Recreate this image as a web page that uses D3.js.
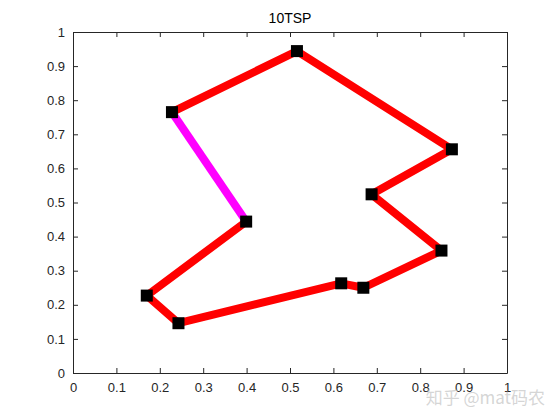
<!DOCTYPE html>
<html lang="en">

<head>
  <meta charset="UTF-8">
  <title>10TSP</title>
  <script src="https://d3js.org/d3.v7.min.js"></script>
  <style>
    body { margin: 0; background: #fff; }
    text { font-family: "Liberation Sans", Arial, sans-serif; }
  </style>
</head>

<body>

  <svg id="chart" width="560" height="420"></svg>

  <script>
    // City coordinates in visiting order (the tour closes back to the first city)
    const tourX = [0.228, 0.516, 0.873, 0.688, 0.849, 0.669, 0.618, 0.243, 0.170, 0.399];
    const tourY = [0.765, 0.944, 0.656, 0.524, 0.359, 0.250, 0.263, 0.146, 0.227, 0.444];
    const tickValues = [0, 0.1, 0.2, 0.3, 0.4, 0.5, 0.6, 0.7, 0.8, 0.9, 1];

    const svg = d3.select("#chart");
    const mLeft = 73, mRight = 507, mTop = 32, mBottom = 373;

    const x = d3.scaleLinear().domain([0, 1]).range([mLeft, mRight]);
    const y = d3.scaleLinear().domain([0, 1]).range([mBottom, mTop]);

    const fmt = d => String(d);

    // Axes with inward ticks on all four sides
    const axisColor = "#262626";
    const gx = svg.append("g").attr("transform", `translate(0,${mBottom})`)
      .call(d3.axisBottom(x).tickValues(tickValues).tickFormat(fmt).tickSizeInner(-5).tickSizeOuter(0).tickPadding(10));
    const gy = svg.append("g").attr("transform", `translate(${mLeft},0)`)
      .call(d3.axisLeft(y).tickValues(tickValues).tickFormat(fmt).tickSizeInner(-5).tickSizeOuter(0).tickPadding(8));
    const gt = svg.append("g").attr("transform", `translate(0,${mTop})`)
      .call(d3.axisTop(x).tickValues(tickValues).tickFormat("").tickSizeInner(-5).tickSizeOuter(0));
    const gr = svg.append("g").attr("transform", `translate(${mRight},0)`)
      .call(d3.axisRight(y).tickValues(tickValues).tickFormat("").tickSizeInner(-5).tickSizeOuter(0));

    [gx, gy, gt, gr].forEach(g => {
      g.selectAll("path, line").attr("stroke", axisColor);
      g.selectAll("text").attr("fill", axisColor).style("font-size", "13px")
        .style("font-family", "'Liberation Sans', Arial, sans-serif");
    });

    // Tour edges
    const pts = tourX.map((d, i) => [d, tourY[i]]);
    const line = d3.line().x(d => x(d[0])).y(d => y(d[1]));

    svg.append("path")
      .datum(pts)
      .attr("d", line)
      .attr("fill", "none")
      .attr("stroke", "#ff0000")
      .attr("stroke-width", 8)
      .attr("stroke-linejoin", "round");

    // closing edge back to start
    svg.append("path")
      .datum([pts[pts.length - 1], pts[0]])
      .attr("d", line)
      .attr("fill", "none")
      .attr("stroke", "#ff00ff")
      .attr("stroke-width", 8);

    // City markers
    svg.selectAll("rect.city")
      .data(pts)
      .join("rect")
      .attr("class", "city")
      .attr("x", d => x(d[0]) - 6)
      .attr("y", d => y(d[1]) - 6)
      .attr("width", 12)
      .attr("height", 12)
      .attr("fill", "#000");

    // Title
    svg.append("text")
      .attr("x", (mLeft + mRight) / 2)
      .attr("y", 23)
      .attr("text-anchor", "middle")
      .attr("fill", "#000")
      .style("font-size", "14px")
      .text("10TSP");

    // Watermark
    svg.append("text")
      .attr("x", 545)
      .attr("y", 404)
      .attr("text-anchor", "end")
      .attr("fill", "#c8c8c8")
      .attr("fill-opacity", 0.75)
      .style("font-family", "'Noto Sans CJK SC', sans-serif")
      .style("font-size", "17px")
      .text("知乎 @mat码农");
  </script>

</body>

</html>
